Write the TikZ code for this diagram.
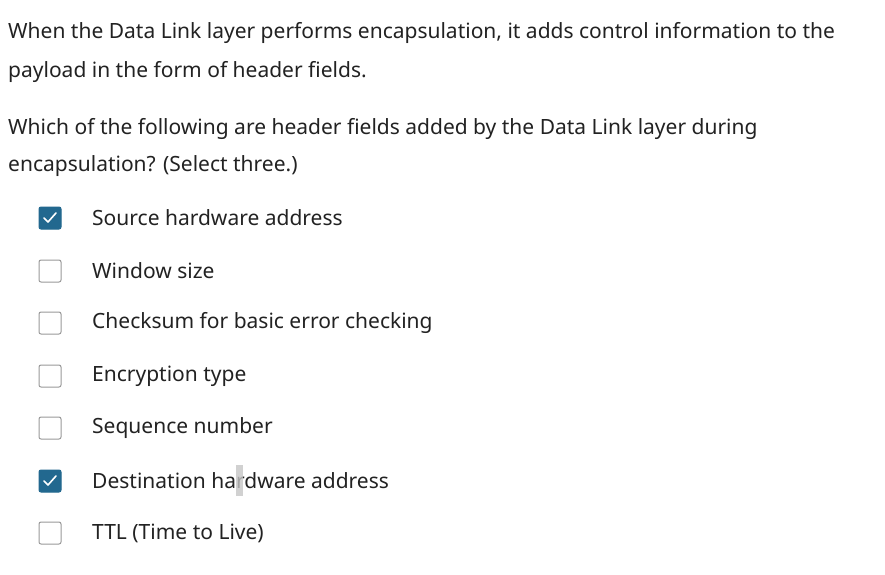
\documentclass[tikz,border=0pt]{standalone}
\usepackage{fontspec}
\setmainfont{Noto Sans}
\definecolor{chk}{HTML}{22688F}
\definecolor{txt}{HTML}{222222}
\begin{document}
\begin{tikzpicture}[x=1pt,y=-1pt,
  para/.style={anchor=base west,inner sep=0pt,text=txt,font=\fontsize{21}{24}\selectfont},
  opt/.style={anchor=west,inner sep=0pt,text=txt,font=\fontsize{21}{24}\selectfont},
  box/.style={draw=gray!80,line width=1pt,rounded corners=2pt,minimum size=22pt,inner sep=0pt},
  cbox/.style={box,draw=chk,fill=chk}]
\useasboundingbox[fill=white] (0,0) rectangle (885,574);
\node[para] (l1) at (8,38) {When the Data Link layer performs encapsulation, it adds control information to the};
\node[para] (l2) at (8,77) {payload in the form of header fields.};
\node[para] (l3) at (8,134) {Which of the following are header fields added by the Data Link layer during};
\node[para] (l4) at (8,171) {encapsulation? (Select three.)};
\foreach \y/\t/\c [count=\i] in {218/Source hardware address/1,271/Window size/0,323/Checksum for basic error checking/0,376/Encryption type/0,428/Sequence number/0,481/Destination hardware address/1,533/TTL (Time to Live)/0}{
  \ifnum\c=1
    \node[cbox] (b\i) at (50,\y) {};
    \draw[white,line width=1.6pt,line cap=round,line join=round] ([shift={(-6,0)}]b\i.center) -- ([shift={(-2,4)}]b\i.center) -- ([shift={(6,-5)}]b\i.center);
  \else
    \node[box] (b\i) at (50,\y) {};
  \fi
  \node[opt] (t\i) at (92,\y) {\t};
}
\fill[gray!45,opacity=0.8] (236,465) rectangle (243,496);
\end{tikzpicture}
\end{document}
